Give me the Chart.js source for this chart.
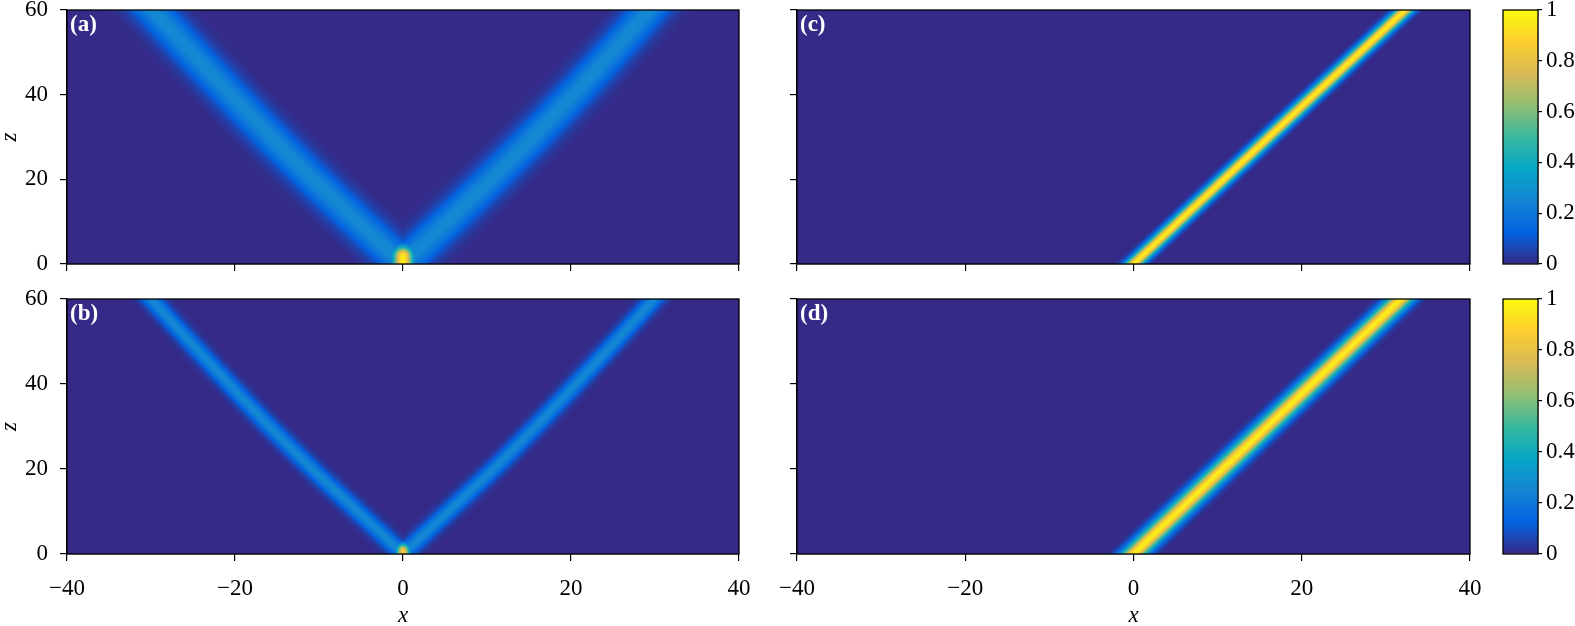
<!DOCTYPE html>
<html>
<head>
<meta charset="utf-8">
<script src="https://cdn.jsdelivr.net/npm/chart.js@4.4.1/dist/chart.umd.min.js"></script>
<style>
  html, body { margin: 0; padding: 0; background: #fff; }
  #fig { position: relative; width: 1575px; height: 626px; overflow: hidden; }
  .box { position: absolute; }
</style>
</head>
<body>
<div id="fig">
  <div class="box" style="left:0;top:0;width:760px;height:280px"><canvas id="pa"></canvas></div>
  <div class="box" style="left:0;top:289px;width:760px;height:337px"><canvas id="pb"></canvas></div>
  <div class="box" style="left:760px;top:0;width:731px;height:280px"><canvas id="pc"></canvas></div>
  <div class="box" style="left:760px;top:289px;width:731px;height:337px"><canvas id="pd"></canvas></div>
  <div class="box" style="left:1491px;top:0;width:84px;height:280px"><canvas id="cb1"></canvas></div>
  <div class="box" style="left:1491px;top:289px;width:84px;height:337px"><canvas id="cb2"></canvas></div>
</div>
<script>
// values
const xTicks = [-40, -20, 0, 20, 40];
const zTicks = [0, 20, 40, 60];
const cbTicks = [0, 0.2, 0.4, 0.6, 0.8, 1];
const panelTags = ['(a)', '(b)', '(c)', '(d)'];

// beam centre lines, z samples and x positions
const zArm = [0, 10, 20, 30, 40, 50, 60];
const armA_left = [0, -5.4, -10.7, -15.7, -20.5, -25.2, -29.8];
const armA_right = [0, 5.3, 10.5, 15.5, 20.3, 24.9, 29.3];
const armB_left = [0, -5.4, -10.8, -15.9, -20.7, -25.4, -30];
const armB_right = [0, 5.4, 10.8, 15.8, 20.6, 25.3, 29.9];
const zBeam = [0, 30, 60];
const beamC = [0, 16.1, 32.3];
const beamD = [0, 15.9, 31.8];
// bright spot at the origin of (a) and (b)
const zSpotA = [0, 1.8];
const zSpotB = [0, 0.8];
const xSpot = [0, 0];
// peak intensity of each feature
const peakArmA = 0.28, peakArmB = 0.27, peakSpotA = 1.0, peakSpotB = 0.88;
const peakBeamC = 1.0, peakBeamD = 1.0;

const parulaStops = [
  [0.000, [53, 42, 135]],
  [0.125, [3, 99, 225]],
  [0.250, [20, 133, 212]],
  [0.375, [6, 167, 198]],
  [0.500, [56, 185, 158]],
  [0.625, [146, 191, 115]],
  [0.750, [217, 186, 86]],
  [0.875, [252, 206, 46]],
  [1.000, [249, 251, 14]]
];
function parula(v) {
  v = Math.max(0, Math.min(1, v));
  for (let i = 1; i < parulaStops.length; i++) {
    const [v1, c1] = parulaStops[i];
    const [v0, c0] = parulaStops[i - 1];
    if (v <= v1) {
      const t = (v - v0) / (v1 - v0);
      const c = c0.map((a, k) => Math.round(a + (c1[k] - a) * t));
      return 'rgb(' + c.join(',') + ')';
    }
  }
  return 'rgb(249,251,14)';
}

const levels = [0.02, 0.04, 0.07, 0.1, 0.15, 0.2, 0.27, 0.35, 0.43, 0.51, 0.6, 0.69, 0.78, 0.87, 0.95];
// one stroked line per intensity level, widest and dimmest underneath
function beam(xs, zs, sigma, peak, cap) {
  return levels.map(f => ({
    data: xs.map((x, i) => ({x: x, y: zs[i]})),
    borderColor: parula(peak * f),
    borderWidth: 2 * sigma * Math.sqrt(2 * Math.log(1 / f)),
    borderCapStyle: cap || 'square',
    borderJoinStyle: 'round',
    pointRadius: 0,
    cubicInterpolationMode: 'monotone',
    fill: false,
    clip: 0,
    _lvl: peak * f
  }));
}
function stack(sets) {
  // highest level first, Chart.js paints index 0 on top
  return [].concat(...sets).sort((p, q) => q._lvl - p._lvl);
}

const serif = '"Liberation Serif", "DejaVu Serif", serif';
Chart.defaults.color = '#000';
Chart.defaults.font.family = serif;
Chart.defaults.font.size = 23;

const heatBack = {
  id: 'heatBack',
  beforeDatasetsDraw(chart) {
    const a = chart.chartArea, c = chart.ctx;
    c.save();
    c.fillStyle = parula(0);
    c.fillRect(a.left, a.top, a.right - a.left, a.bottom - a.top);
    c.restore();
  }
};
const frame = {
  id: 'frame',
  afterDatasetsDraw(chart, args, opts) {
    const a = chart.chartArea, c = chart.ctx;
    c.save();
    if (opts.tag) {
      c.fillStyle = '#fff';
      c.font = 'bold 23px ' + serif;
      c.textBaseline = 'top';
      c.fillText(opts.tag, a.left + 3, a.top + 4);
    }
    c.strokeStyle = '#000';
    c.lineWidth = 1.3;
    c.strokeRect(a.left, a.top, a.right - a.left, a.bottom - a.top);
    c.restore();
  }
};

function minusLabel(v) {
  return v < 0 ? '\u2212' + Math.abs(v) : String(v);
}
// fixed axis size, and no extra room for overhanging labels
function fixSize(prop, size) {
  return s => {
    s[prop] = size;
    s.paddingTop = 0; s.paddingBottom = 0; s.paddingLeft = 0; s.paddingRight = 0;
  };
}

function panel(id, datasets, tag, showXLabels, showYLabels, bottomH, leftW) {
  new Chart(document.getElementById(id), {
    type: 'line',
    data: {datasets: datasets},
    plugins: [heatBack, frame],
    options: {
      responsive: true,
      maintainAspectRatio: false,
      animation: false,
      events: [],
      layout: {padding: {top: 10, right: 21, left: 0, bottom: 0}},
      plugins: {legend: {display: false}, tooltip: {enabled: false}, frame: {tag: tag}},
      scales: {
        x: {
          type: 'linear', min: xTicks[0], max: xTicks[xTicks.length - 1],
          afterBuildTicks: s => { s.ticks = xTicks.map(v => ({value: v})); },
          afterFit: fixSize('height', bottomH),
          grid: {drawOnChartArea: false, drawTicks: true, tickLength: 7, color: '#000', lineWidth: 1.2},
          border: {display: true, color: '#000', width: 1.2},
          ticks: {display: showXLabels, padding: 14, maxRotation: 0, callback: minusLabel},
          title: {display: showXLabels, text: 'x', padding: {top: 0, bottom: 0},
                  font: {family: serif, size: 23, style: 'italic', lineHeight: 0.9}}
        },
        y: {
          type: 'linear', min: zTicks[0], max: zTicks[zTicks.length - 1],
          afterBuildTicks: s => { s.ticks = zTicks.map(v => ({value: v})); },
          afterFit: fixSize('width', leftW),
          grid: {drawOnChartArea: false, drawTicks: true, tickLength: 7, color: '#000', lineWidth: 1.2},
          border: {display: true, color: '#000', width: 1.2},
          ticks: {display: showYLabels, padding: 12, callback: minusLabel},
          title: {display: showYLabels, text: 'z', padding: {top: 0, bottom: 0},
                  font: {family: serif, size: 23, style: 'italic', lineHeight: 0.9}}
        }
      }
    }
  });
}

panel('pa', stack([
  beam(xSpot, zSpotA, 7.5, peakSpotA, 'round'),
  beam(armA_left, zArm, 12, peakArmA),
  beam(armA_right, zArm, 12, peakArmA)
]), panelTags[0], false, true, 16, 67);

panel('pb', stack([
  beam(xSpot, zSpotB, 5, peakSpotB, 'round'),
  beam(armB_left, zArm, 6, peakArmB),
  beam(armB_right, zArm, 6, peakArmB)
]), panelTags[1], true, true, 72, 67);

panel('pc', stack([beam(beamC, zBeam, 4.6, peakBeamC)]), panelTags[2], false, false, 16, 37);
panel('pd', stack([beam(beamD, zBeam, 6.6, peakBeamD)]), panelTags[3], true, false, 72, 37);

function colorbar(id, padBottom) {
  new Chart(document.getElementById(id), {
    type: 'bar',
    data: {
      labels: [''],
      datasets: [{
        data: [[cbTicks[0], cbTicks[cbTicks.length - 1]]],
        barPercentage: 1,
        categoryPercentage: 1,
        borderWidth: 0,
        backgroundColor: ctx => {
          const a = ctx.chart.chartArea;
          if (!a) return parula(0);
          const g = ctx.chart.ctx.createLinearGradient(0, a.bottom, 0, a.top);
          parulaStops.forEach(s => g.addColorStop(s[0], 'rgb(' + s[1].join(',') + ')'));
          return g;
        }
      }]
    },
    plugins: [frame],
    options: {
      responsive: true,
      maintainAspectRatio: false,
      animation: false,
      events: [],
      layout: {padding: {top: 10, left: 12, right: 0, bottom: padBottom}},
      plugins: {legend: {display: false}, tooltip: {enabled: false}, frame: {tag: ''}},
      scales: {
        x: {display: false},
        y: {
          position: 'right', min: 0, max: 1,
          afterBuildTicks: s => { s.ticks = cbTicks.map(v => ({value: v})); },
          afterFit: fixSize('width', 37),
          grid: {drawOnChartArea: false, drawTicks: true, tickLength: 4, color: '#000', lineWidth: 1.2},
          border: {display: true, color: '#000', width: 1.2},
          ticks: {padding: 4, callback: v => String(v)}
        }
      }
    }
  });
}
colorbar('cb1', 16);
colorbar('cb2', 72);
</script>
</body>
</html>
